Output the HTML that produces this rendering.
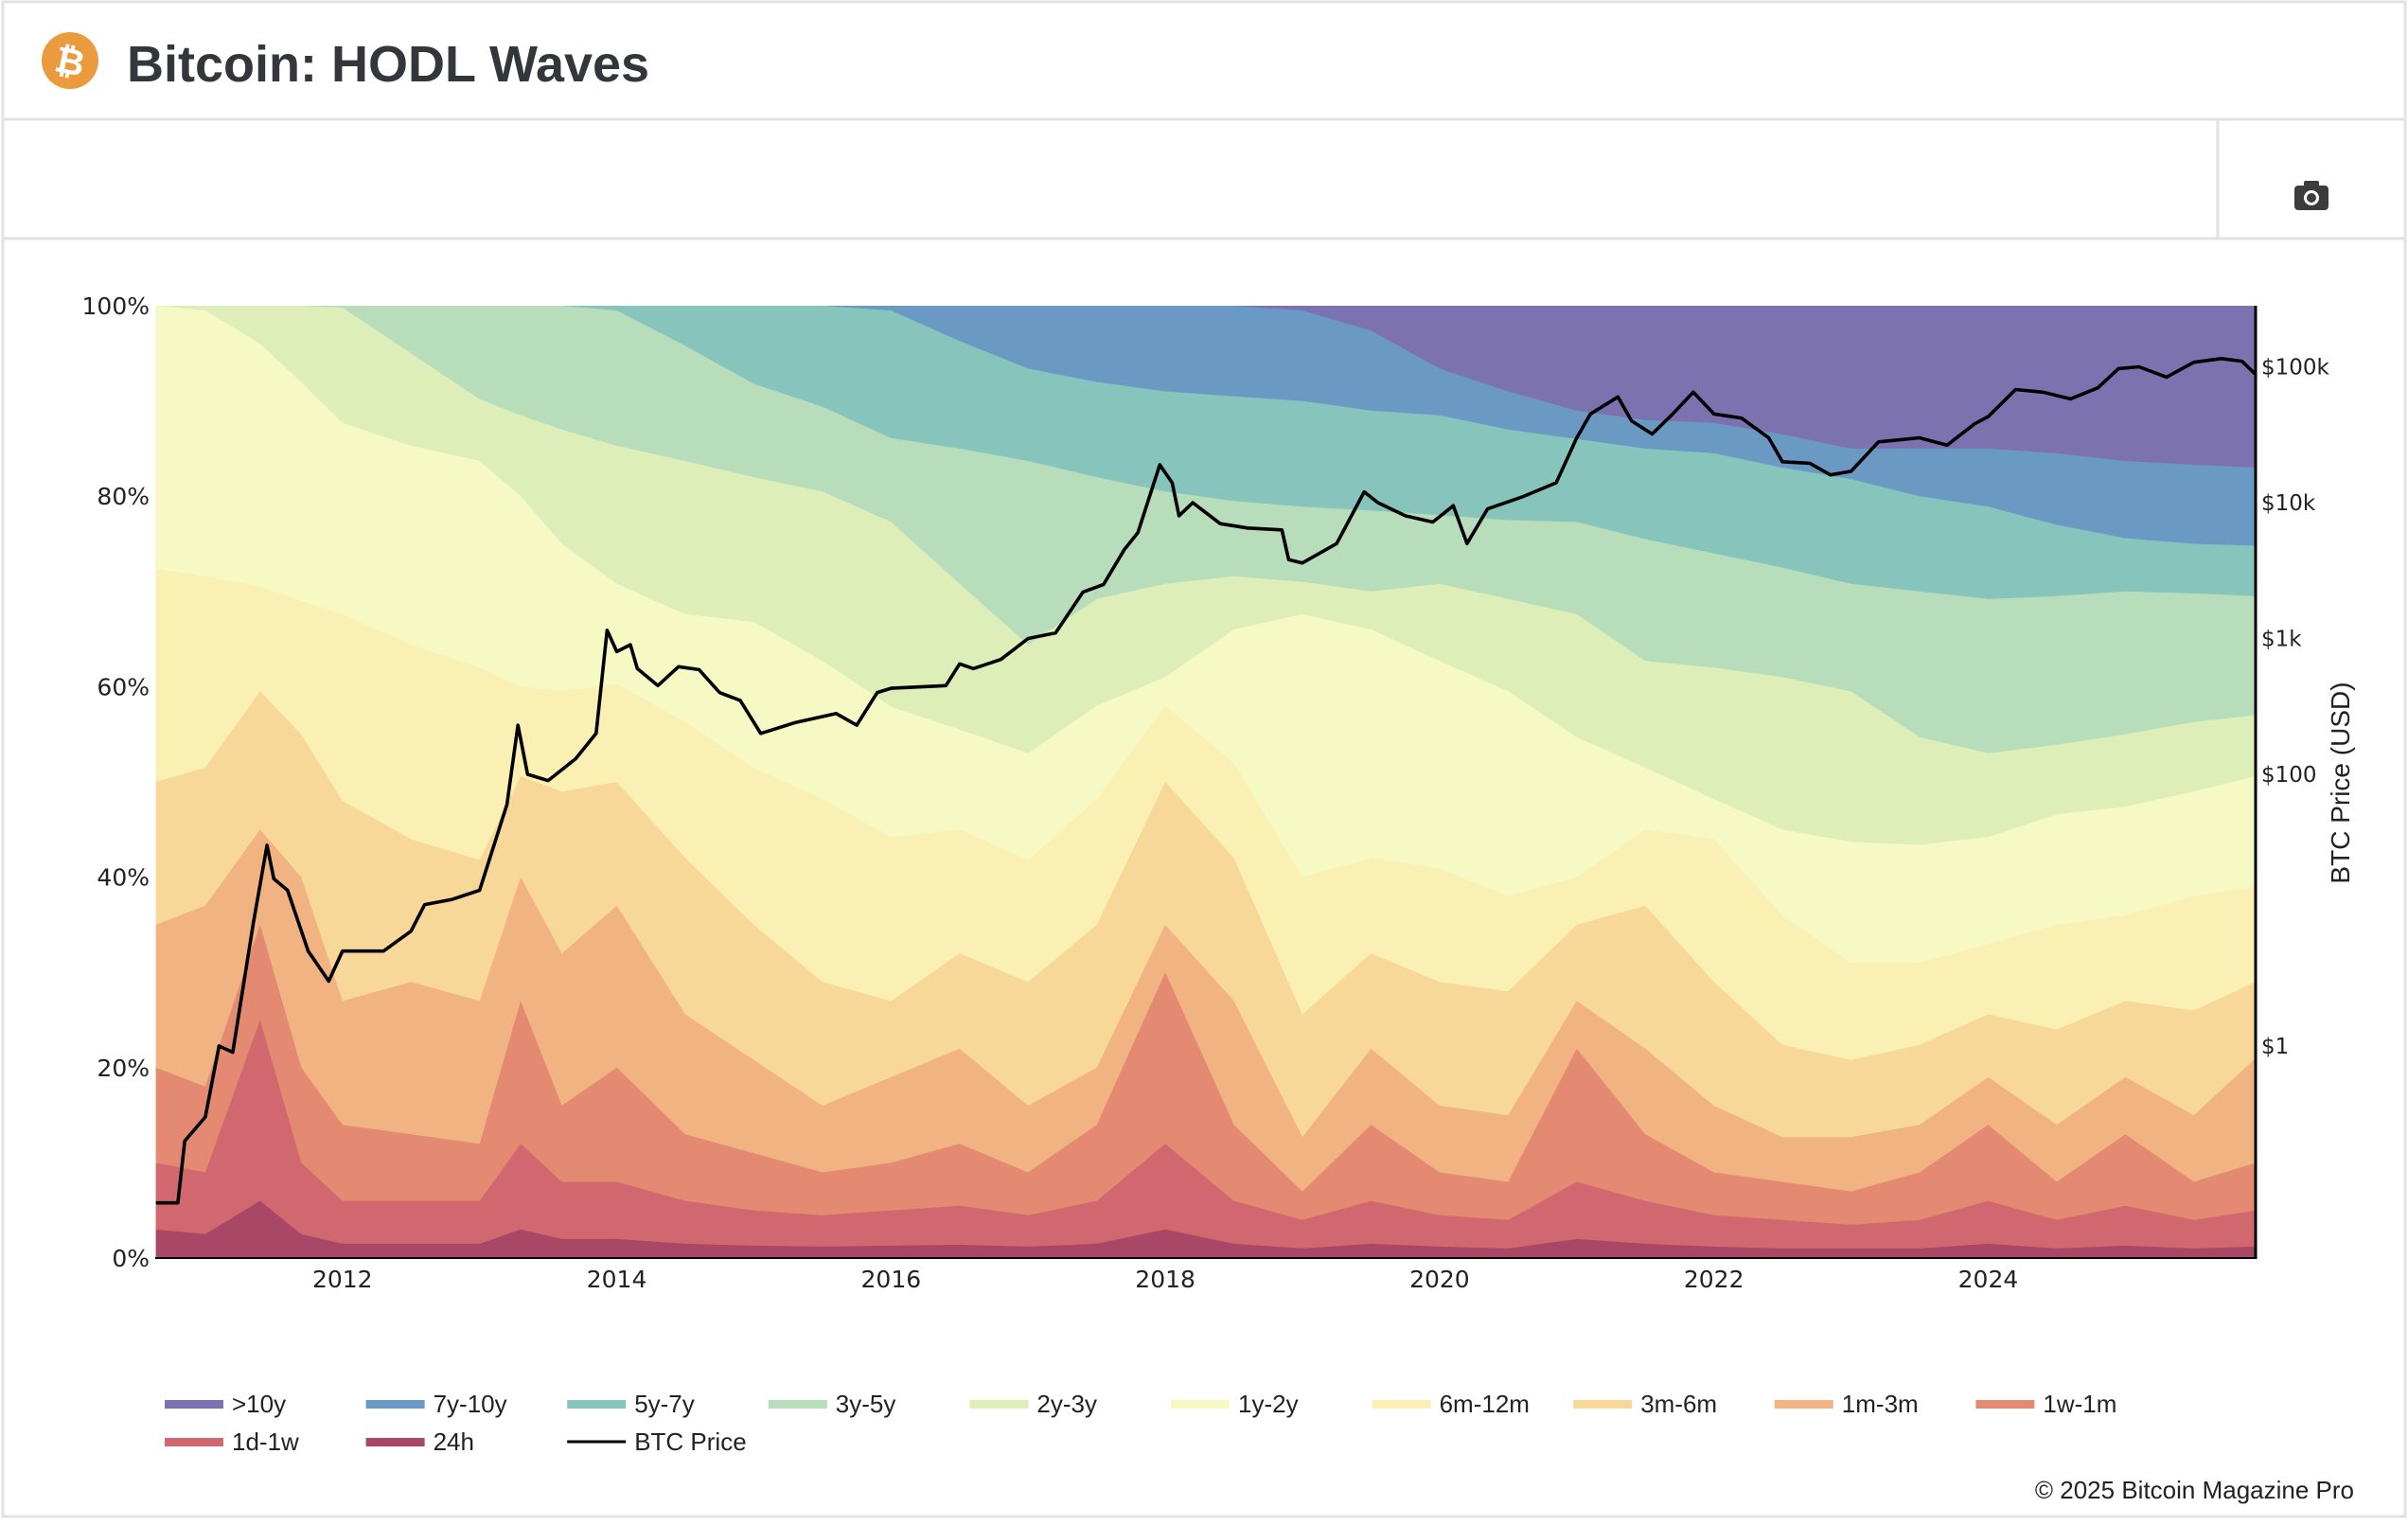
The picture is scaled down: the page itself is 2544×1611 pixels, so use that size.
<!DOCTYPE html>
<html><head><meta charset="utf-8"><title>Bitcoin: HODL Waves</title>
<style>
html,body{margin:0;padding:0;background:#fff;}
body{width:2544px;height:1606px;overflow:hidden;font-family:"Liberation Sans",sans-serif;}
</style></head>
<body>
<svg id="chart" width="2544" height="1606" viewBox="0 0 2544 1606" xmlns="http://www.w3.org/2000/svg">
  <rect x="3" y="2" width="2538" height="1600" fill="#fff" stroke="#e2e2e2" stroke-width="3"/>
  <line x1="3" y1="126" x2="2541" y2="126" stroke="#e2e2e2" stroke-width="3"/>
  <line x1="3" y1="252" x2="2541" y2="252" stroke="#e2e2e2" stroke-width="3"/>
  <line x1="2343" y1="126" x2="2343" y2="252" stroke="#e2e2e2" stroke-width="3"/>
  <g>
    <circle cx="74" cy="64" r="30" fill="#ec9a3e"/>
    <text x="74" y="78" text-anchor="middle" font-family="Liberation Sans, sans-serif" font-weight="bold" font-size="38" fill="#fff" transform="rotate(12 74 64)">₿</text>
  </g>
  <text x="134" y="86" font-family="Liberation Sans, sans-serif" font-weight="bold" font-size="54" fill="#33363b">Bitcoin: HODL Waves</text>
  <g transform="translate(2442,208)">
    <rect x="-18" y="-12" width="36" height="26" rx="4" fill="#3c3c3c"/>
    <rect x="-8" y="-17" width="16" height="7" rx="2" fill="#3c3c3c"/>
    <circle cx="0" cy="1" r="8" fill="#fff"/>
    <circle cx="0" cy="1" r="5" fill="#3c3c3c"/>
  </g>
  <defs><clipPath id="plotclip"><rect x="164" y="323" width="2219" height="1006"/></clipPath></defs>
  <g id="bands" clip-path="url(#plotclip)"></g>
  <g id="priceg" clip-path="url(#plotclip)"></g>
  <line x1="2383" y1="323" x2="2383" y2="1330" stroke="#000" stroke-width="3"/>
  <line x1="164" y1="1329" x2="2384" y2="1329" stroke="#000" stroke-width="2"/>
  <g id="axes"></g>
  <g id="legend"></g>
  <text x="2487" y="1583" text-anchor="end" font-family="Liberation Sans, sans-serif" font-size="26" fill="#222">© 2025 Bitcoin Magazine Pro</text>
</svg>
<script>
// ---- data (cumulative upper edge of each band, % of supply) ----
const years = [2010.64,2011.0,2011.4,2011.7,2012.0,2012.5,2013.0,2013.3,2013.6,2014.0,2014.5,2015.0,2015.5,2016.0,2016.5,2017.0,2017.5,2018.0,2018.5,2019.0,2019.5,2020.0,2020.5,2021.0,2021.5,2022.0,2022.5,2023.0,2023.5,2024.0,2024.5,2025.0,2025.5,2025.95];
const edge_10y = [100,100,100,100,100,100,100,100,100,100,100,100,100,100,100,100,100,100,100,100,100,100,100,100,100,100,100,100,100,100,100,100,100,100];
const edge_7y10y = [100,100,100,100,100,100,100,100,100,100,100,100,100,100,100,100,100,100,100,99.5,97.4,93.4,91,89,88,87.7,86.5,85,85,85,84.5,83.7,83.3,83];
const edge_5y7y = [100,100,100,100,100,100,100,100,100,100,100,100,100,99.5,96.3,93.4,92,91,90.5,90,89,88.5,87,86,85,84.5,83,81.8,80,78.9,77,75.6,75,74.8];
const edge_3y5y = [100,100,100,100,100,100,100,100,100,99.5,95.8,91.8,89.4,86.1,85,83.7,82,80.5,79.5,78.9,78.5,78,77.5,77.3,75.5,74,72.5,70.8,70,69.2,69.5,70,69.8,69.5];
const edge_2y3y = [100,100,100,100,99.8,95,90.2,88.5,87,85.3,83.7,82,80.5,77.3,70.8,64.4,69.2,70.8,71.6,71,70,70.8,69.2,67.6,62.7,62,61,59.5,54.7,53,53.9,55,56.3,57];
const edge_1y2y = [100,99.5,96,92,87.7,85.3,83.7,80,75,70.8,67.6,66.8,62.7,57.9,55.5,53,58,61,66,67.6,66,62.7,59.5,54.7,51.5,48.2,45,43.7,43.4,44.2,46.6,47.4,49,50.6];
const edge_6m12m = [72.4,71.6,70.5,69,67.6,64.4,62,60,59.5,60.3,56.3,51.5,48.2,44.2,45,41.8,48.2,58,52,40,42,40.9,38,40,45,44,36,31,31,33,35,36,38,39];
const edge_3m6m = [50,51.5,59.5,55,48,44,41.8,50.6,49,50,42,35,29,27,32,29,35,50,42,25.6,32,29,28,35,37,29,22.4,20.8,22.4,25.6,24,27,26,29];
const edge_1m3m = [35,37,45,40,27,29,27,40,32,37,25.6,20.8,16,19,22,16,20,35,27,12.7,22,16,15,27,22,16,12.7,12.7,14,19,14,19,15,21];
const edge_1w1m = [20,18,35,20,14,13,12,27,16,20,13,11,9,10,12,9,14,30,14,7,14,9,8,22,13,9,8,7,9,14,8,13,8,10];
const edge_1d1w = [10,9,25,10,6,6,6,12,8,8,6,5,4.5,5,5.5,4.5,6,12,6,4,6,4.5,4,8,6,4.5,4,3.5,4,6,4,5.5,4,5];
const edge_24h = [3,2.5,6,2.5,1.5,1.5,1.5,3,2,2,1.5,1.3,1.2,1.3,1.4,1.2,1.5,3,1.5,1,1.5,1.2,1,2,1.5,1.2,1,1,1,1.5,1,1.3,1,1.2];
const bandNames = [">10y","7y-10y","5y-7y","3y-5y","2y-3y","1y-2y","6m-12m","3m-6m","1m-3m","1w-1m","1d-1w","24h"];
const bandColors = ["#7b72af","#6a9ac4","#86c4bc","#b8ddbb","#ddeeb9","#f7f9c5","#faf0b4","#f8d899","#f1b382","#e48a72","#d2686f","#a84866"];
const priceYears = [2010.64,2010.8,2010.85,2011.0,2011.1,2011.2,2011.35,2011.45,2011.5,2011.6,2011.75,2011.9,2012.0,2012.1,2012.3,2012.5,2012.6,2012.8,2013.0,2013.2,2013.28,2013.35,2013.5,2013.7,2013.85,2013.93,2014.0,2014.1,2014.15,2014.3,2014.45,2014.6,2014.75,2014.9,2015.05,2015.3,2015.6,2015.75,2015.9,2016.0,2016.4,2016.5,2016.6,2016.8,2017.0,2017.2,2017.4,2017.55,2017.7,2017.8,2017.96,2018.05,2018.1,2018.2,2018.4,2018.6,2018.85,2018.9,2019.0,2019.25,2019.45,2019.55,2019.75,2019.95,2020.1,2020.2,2020.35,2020.6,2020.85,2021.0,2021.1,2021.3,2021.4,2021.55,2021.7,2021.85,2022.0,2022.2,2022.4,2022.5,2022.7,2022.85,2023.0,2023.2,2023.5,2023.7,2023.9,2024.0,2024.2,2024.4,2024.6,2024.8,2024.95,2025.1,2025.3,2025.5,2025.7,2025.85,2025.95];
const priceValues = [0.07,0.07,0.2,0.3,1.0,0.9,8,30,17,14,5,3,5,5,5,7,11,12,14,60,230,100,90,130,200,1150,800,900,600,450,620,590,400,350,200,240,280,230,400,430,450,650,600,700,1000,1100,2200,2500,4500,6000,19000,14000,8000,10000,7000,6500,6300,3800,3600,5000,12000,10000,8000,7200,9500,5000,9000,11000,14000,30000,45000,60000,40000,32000,45000,65000,45000,42000,30000,20000,19500,16000,17000,28000,30000,26500,38000,43000,68000,65000,58000,70000,97000,100000,84000,108000,115000,110000,88000];
const yTicks = [0,20,40,60,80,100];
const xTicks = [2012,2014,2016,2018,2020,2022,2024];
const priceTicks = [1,100,1000,10000,100000];
const priceTickLabels = ["$1","$100","$1k","$10k","$100k"];

// ---- axis functions ----
const X0=164, X1=2383, Y0=1329, Y1=323;
const T0=2010.635, T1=2025.95;
const xs = t => X0 + (t-T0)/(T1-T0)*(X1-X0);
const ys = p => Y0 - p/100*(Y0-Y1);
const yp = v => 1105 - Math.log10(v)*143.5;
const NS="http://www.w3.org/2000/svg";
function mk(tag, attrs, parent){const e=document.createElementNS(NS,tag);for(const k in attrs)e.setAttribute(k,attrs[k]);parent.appendChild(e);return e;}

const edges=[edge_10y,edge_7y10y,edge_5y7y,edge_3y5y,edge_2y3y,edge_1y2y,edge_6m12m,edge_3m6m,edge_1m3m,edge_1w1m,edge_1d1w,edge_24h];
const bands=document.getElementById('bands');
edges.forEach((arr,i)=>{
  let d='M'+xs(years[0]).toFixed(1)+','+Y0;
  years.forEach((t,j)=>{d+=' L'+xs(t).toFixed(1)+','+ys(arr[j]).toFixed(1);});
  d+=' L'+xs(years[years.length-1]).toFixed(1)+','+Y0+' Z';
  const p=mk('path',{d:d,fill:bandColors[i]},bands);
  
  
});

const pg=document.getElementById('priceg');
let pd='';
priceYears.forEach((t,j)=>{pd+=(j?' L':'M')+xs(t).toFixed(1)+','+yp(priceValues[j]).toFixed(1);});
const pl=mk('path',{d:pd,fill:'none',stroke:'#000','stroke-width':3.6,'stroke-linejoin':'round'},pg);



const axes=document.getElementById('axes');
yTicks.forEach(v=>{
  const t=mk('text',{x:158,y:ys(v)+9,'text-anchor':'end','font-family':'DejaVu Sans, sans-serif','font-size':25,fill:'#222'},axes);
  t.textContent=v+'%';
  
  
});
xTicks.forEach(v=>{
  const t=mk('text',{x:xs(v),y:1360,'text-anchor':'middle','font-family':'DejaVu Sans, sans-serif','font-size':25,fill:'#222'},axes);
  t.textContent=String(v);
  
  
});
priceTicks.forEach((v,i)=>{
  const t=mk('text',{x:2389,y:yp(v)+8,'text-anchor':'start','font-family':'DejaVu Sans, sans-serif','font-size':23,fill:'#222'},axes);
  t.textContent=priceTickLabels[i];
  
  
});
const at=mk('text',{x:0,y:0,'text-anchor':'middle','font-family':'Liberation Sans, sans-serif','font-size':28,fill:'#222',transform:'translate(2482,827) rotate(-90)'},axes);
at.textContent='BTC Price (USD)';



const lg=document.getElementById('legend');
const legNames=bandNames.concat(['BTC Price']);
const legColors=bandColors.concat(['#000']);
legNames.forEach((n,i)=>{
  const row=i<10?0:1, col=i<10?i:i-10;
  const x=174+col*212.6, y=row?1523:1483;
  const g=mk('g',{},lg);
  
  
  if(n==='BTC Price') mk('line',{x1:x,y1:y,x2:x+62,y2:y,stroke:'#000','stroke-width':3},g);
  else mk('rect',{x:x,y:y-4,width:62,height:9,fill:legColors[i]},g);
  const t=mk('text',{x:x+71,y:y+9,'font-family':'Liberation Sans, sans-serif','font-size':26,fill:'#222'},g);
  t.textContent=n;
});
</script>
</body></html>
